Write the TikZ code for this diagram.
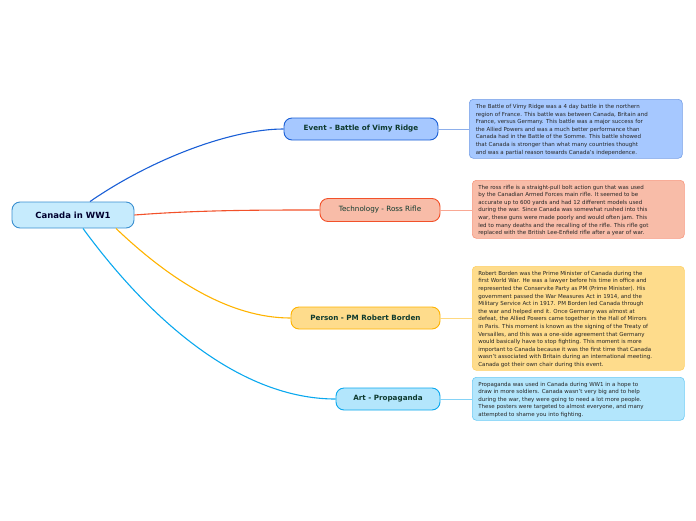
\documentclass[tikz,border=0pt]{standalone}
\usepackage{fontspec}
\setmainfont{DejaVu Sans}
\definecolor{evF}{HTML}{A6C8FF}\definecolor{evD}{HTML}{1A5FD6}
\definecolor{teF}{HTML}{F8BCA8}\definecolor{teD}{HTML}{F2512A}
\definecolor{peF}{HTML}{FEDC8C}\definecolor{peD}{HTML}{FFB300}
\definecolor{arF}{HTML}{B3E6FC}\definecolor{arD}{HTML}{0AA8EE}
\definecolor{roF}{HTML}{C6EBFD}\definecolor{roD}{HTML}{3A8FD0}
\definecolor{tx}{HTML}{0E3A2E}
\begin{document}
\begin{tikzpicture}[x=1pt,y=-1pt,
 topic/.style={draw=#1D,fill=#1F,rounded corners=8pt,line width=0.9pt,font=\fontsize{7.2}{8}\selectfont\bfseries,text=tx,inner sep=0pt,anchor=center},
 note/.style={draw=#1D!60,fill=#1F,rounded corners=4pt,line width=0.6pt,font=\fontsize{5.5}{7.6}\selectfont,text=black!85,inner sep=0pt,align=left,anchor=north west},
 link/.style={line width=1.1pt,#1D},
 thin/.style={line width=0.5pt,#1D!50}]
\useasboundingbox (0,0) rectangle (696,520);
\node[topic=ro,minimum width=122pt,minimum height=26pt,font=\fontsize{8.5}{10}\selectfont\bfseries,text=black!70!blue!60!black] (root) at (73,215) {Canada in WW1};
\node[topic=ev,minimum width=154pt,minimum height=22pt] (ev) at (361,129) {Event - Battle of Vimy Ridge};
\node[topic=te,minimum width=120pt,minimum height=23pt,font=\fontsize{7.2}{8}\selectfont] (te) at (380,210) {Technology - Ross Rifle};
\node[topic=pe,minimum width=149pt,minimum height=22pt] (pe) at (365.5,318) {Person - PM Robert Borden};
\node[topic=ar,minimum width=104pt,minimum height=22pt] (ar) at (388,399) {Art - Propaganda};

\node[note=ev,minimum width=213pt,minimum height=59pt] (n1) at (469,99) {\hspace*{5pt}\parbox[t]{205pt}{\vspace*{2pt}The Battle of Vimy Ridge was a 4 day battle in the northern\\region of France. This battle was between Canada, Britain and\\France, versus Germany. This battle was a major success for\\the Allied Powers and was a much better performance than\\Canada had in the Battle of the Somme. This battle showed\\that Canada is stronger than what many countries thought\\and was a partial reason towards Canada's independence.}};
\node[note=te,minimum width=212pt,minimum height=58pt] (n2) at (472,180) {\hspace*{5pt}\parbox[t]{205pt}{\vspace*{2pt}The ross rifle is a straight-pull bolt action gun that was used\\by the Canadian Armed Forces main rifle. It seemed to be\\accurate up to 600 yards and had 12 different models used\\during the war. Since Canada was somewhat rushed into this\\war, these guns were made poorly and would often jam. This\\led to many deaths and the recalling of the rifle. This rifle got\\replaced with the British Lee-Enfield rifle after a year of war.}};
\node[note=pe,minimum width=212pt,minimum height=104pt] (n3) at (472,266) {\hspace*{5pt}\parbox[t]{205pt}{\vspace*{2pt}Robert Borden was the Prime Minister of Canada during the\\first World War. He was a lawyer before his time in office and\\represented the Conservite Party as PM (Prime Minister). His\\government passed the War Measures Act in 1914, and the\\Military Service Act in 1917. PM Borden led Canada through\\the war and helped end it. Once Germany was almost at\\defeat, the Allied Powers came together in the Hall of Mirrors\\in Paris. This moment is known as the signing of the Treaty of\\Versailles, and this was a one-side agreement that Germany\\would basically have to stop fighting. This moment is more\\important to Canada because it was the first time that Canada\\wasn't associated with Britain during an international meeting.\\Canada got their own chair during this event.}};
\node[note=ar,minimum width=212pt,minimum height=43pt] (n4) at (472,377) {\hspace*{5pt}\parbox[t]{205pt}{\vspace*{2pt}Propaganda was used in Canada during WW1 in a hope to\\draw in more soldiers. Canada wasn't very big and to help\\during the war, they were going to need a lot more people.\\These posters were targeted to almost everyone, and many\\attempted to shame you into fighting.}};

\draw[link=ev] ([xshift=17pt]root.north) .. controls (150,160) and (230,129) .. (ev.west);
\draw[link=te] (root.east) .. controls (200,210) and (260,210) .. (te.west);
\draw[link=pe] ([xshift=43pt]root.south) .. controls (170,280) and (230,318) .. (pe.west);
\draw[link=ar] ([xshift=10pt]root.south) .. controls (150,320) and (240,399) .. (ar.west);
\draw[thin=ev] (ev.east) -- (ev.east -| n1.west);
\draw[thin=te] (te.east) -- (te.east -| n2.west);
\draw[thin=pe] (pe.east) -- (pe.east -| n3.west);
\draw[thin=ar] (ar.east) -- (ar.east -| n4.west);
\end{tikzpicture}
\end{document}
